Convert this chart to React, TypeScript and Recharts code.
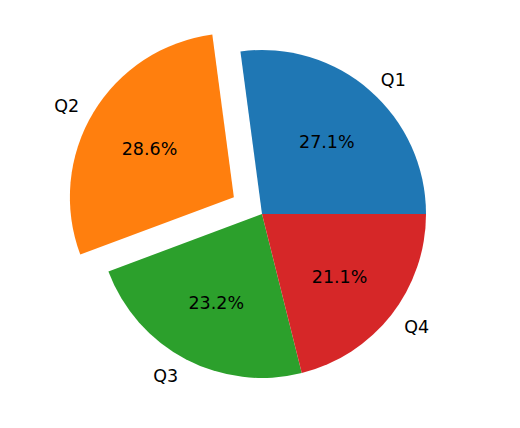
import { PieChart, Pie, Cell } from "recharts";

const quarters = ["Q1", "Q2", "Q3", "Q4"];
const shares = [27.1, 28.6, 23.2, 21.1];
const colors = ["#1f77b4", "#ff7f0e", "#2ca02c", "#d62728"];
const explode = [0, 0.2, 0, 0];

const data = quarters.map((name, i) => ({ name, value: shares[i] }));

const RADIUS = 164;
const CX = 254;
const CY = 206;
const RAD = Math.PI / 180;
const FONT = "'DejaVu Sans', sans-serif";

// where the exploded slice sits, derived from its share of the whole
const total = shares.reduce((a, b) => a + b, 0);
const explodedIdx = explode.findIndex((e) => e > 0);
const before = shares.slice(0, explodedIdx).reduce((a, b) => a + b, 0);
const midAngle = ((before + shares[explodedIdx] / 2) / total) * 360;
const dx = explode[explodedIdx] * RADIUS * Math.cos(midAngle * RAD);
const dy = -explode[explodedIdx] * RADIUS * Math.sin(midAngle * RAD);

const makeLabel = (onlyExploded: boolean) => (props: any) => {
    const { cx, cy, midAngle: mid, outerRadius, percent, index, name } = props;
    if ((index === explodedIdx) !== onlyExploded) return null;
    const cos = Math.cos(-mid * RAD);
    const sin = Math.sin(-mid * RAD);
    const px = cx + outerRadius * 0.6 * cos;
    const py = cy + outerRadius * 0.6 * sin + 2;
    const lx = cx + outerRadius * 1.1 * cos;
    const ly = cy + outerRadius * 1.1 * sin + 2;
    return (
        <g>
            <text x={px} y={py} textAnchor="middle" dominantBaseline="central" fill="#000" fontSize={17.5} fontFamily={FONT}>
                {(percent * 100).toFixed(1)}%
            </text>
            <text x={lx} y={ly} textAnchor={cos >= 0 ? "start" : "end"} dominantBaseline="central" fill="#000" fontSize={17.5} fontFamily={FONT}>
                {name}
            </text>
        </g>
    );
};

export default function App() {
    return (
        <div style={{ width: 504, height: 412, background: "#fff" }}>
            <PieChart width={504} height={412} margin={{ top: 0, right: 0, bottom: 0, left: 0 }}>
                <Pie
                    data={data}
                    dataKey="value"
                    nameKey="name"
                    cx={CX}
                    cy={CY}
                    outerRadius={RADIUS}
                    startAngle={0}
                    endAngle={360}
                    stroke="none"
                    labelLine={false}
                    label={makeLabel(false)}
                    isAnimationActive={false}
                >
                    {data.map((d, i) => (
                        <Cell key={d.name} fill={i === explodedIdx ? "none" : colors[i]} />
                    ))}
                </Pie>
                <Pie
                    data={data}
                    dataKey="value"
                    nameKey="name"
                    cx={CX + dx}
                    cy={CY + dy}
                    outerRadius={RADIUS}
                    startAngle={0}
                    endAngle={360}
                    stroke="none"
                    labelLine={false}
                    label={makeLabel(true)}
                    isAnimationActive={false}
                >
                    {data.map((d, i) => (
                        <Cell key={d.name} fill={i === explodedIdx ? colors[i] : "none"} />
                    ))}
                </Pie>
            </PieChart>
        </div>
    );
}
